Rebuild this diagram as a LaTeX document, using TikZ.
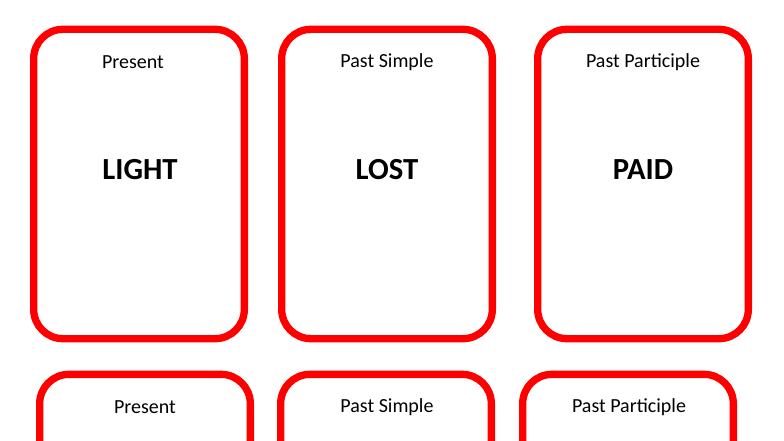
\documentclass[tikz,border=0pt]{standalone}
\usepackage{fontspec}
\setmainfont{Carlito}
\begin{document}
\begin{tikzpicture}[x=0.75pt,y=-0.75pt,
  card/.style={draw=red, line width=5.5pt, rounded corners=22pt,
    minimum width=158pt, minimum height=232pt, inner sep=0pt},
  tense/.style={font=\fontsize{15}{17}\selectfont},
  verb/.style={font=\fontsize{23}{26}\selectfont\bfseries}]
  \useasboundingbox (0,0) rectangle (784,441);
  \clip (0,0) rectangle (784,441);
  % top row
  \node[card] (c1) at (139,184) {};
  \node[card] (c2) at (387,184) {};
  \node[card] (c3) at (643,184) {};
  % bottom row
  \node[card] (c4) at (145,529) {};
  \node[card] (c5) at (386,529) {};
  \node[card] (c6) at (628,529) {};
  % labels
  \node[tense] (t1) at (133,62) {Present};
  \node[tense] (t2) at (387,62) {Past Simple};
  \node[tense] (t3) at (643,62) {Past Participle};
  \node[verb] (v1) at (140,170) {LIGHT};
  \node[verb] (v2) at (387,170) {LOST};
  \node[verb] (v3) at (643,170) {PAID};
  \node[tense] (t4) at (145,407) {Present};
  \node[tense] (t5) at (387,407) {Past Simple};
  \node[tense] (t6) at (629,407) {Past Participle};
\end{tikzpicture}
\end{document}
